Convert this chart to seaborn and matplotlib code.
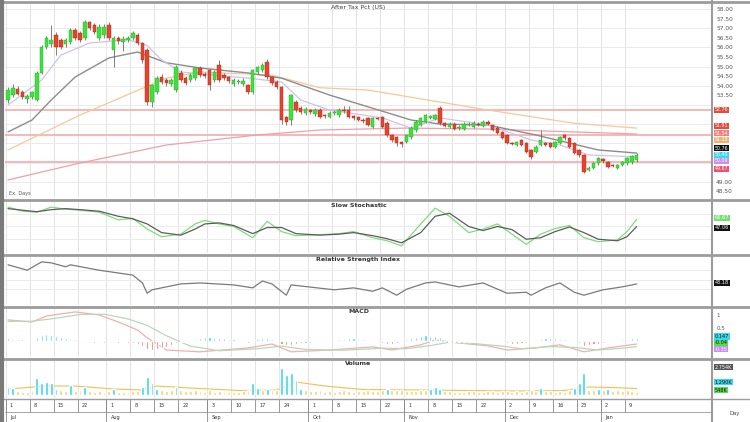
import numpy as np
import matplotlib
matplotlib.use("Agg")
import matplotlib.pyplot as plt
import seaborn as sns
from matplotlib.lines import Line2D

# daily candles
opens = [
    53.26, 53.52, 53.85, 53.70, 53.32, 53.40, 53.26, 54.67, 56.03, 56.20,
    56.65, 56.39, 56.20, 56.30, 56.91, 56.75, 56.50, 57.30, 57.17, 56.50,
    56.65, 57.17, 55.87, 56.50, 56.30, 56.40, 56.50, 56.65, 56.25, 55.87,
    53.16, 53.68, 54.45, 54.30, 54.10, 53.78, 54.67, 54.40, 54.30, 54.40,
    54.93, 54.60, 54.80, 54.30, 55.08, 54.56, 54.45, 54.10, 54.20, 54.10,
    54.04, 53.68, 54.72, 54.82, 55.24, 54.45, 54.20, 53.94, 52.38, 52.22,
    53.16, 52.85, 52.60, 52.74, 52.55, 52.74, 52.48, 52.38, 52.60, 52.48,
    52.74, 52.74, 52.42, 52.38, 52.22, 52.33, 51.86, 52.33, 52.38, 52.07,
    51.44, 51.34, 51.10, 51.08, 51.34, 51.70, 51.96, 52.12, 52.33, 52.28,
    52.85, 52.07, 51.86, 52.02, 51.80, 51.76, 51.96, 51.86, 52.02, 51.90,
    52.12, 51.96, 51.80, 51.60, 51.44, 51.03, 50.92, 51.18, 51.03, 50.66,
    50.56, 50.92, 51.03, 51.03, 50.82, 51.03, 51.44, 51.28, 51.03, 50.66,
    50.40, 49.62, 49.72, 49.98, 50.19, 50.04, 49.88, 49.72, 49.88, 49.98,
    50.04, 50.14]
closes = [
    53.78, 53.90, 53.60, 53.40, 53.47, 53.70, 54.67, 56.03, 56.50, 56.40,
    56.03, 56.03, 56.39, 56.91, 56.50, 56.39, 57.30, 57.00, 56.80, 57.05,
    57.05, 56.50, 56.50, 56.35, 56.45, 56.50, 56.75, 56.25, 55.35, 53.16,
    54.04, 54.40, 54.20, 54.15, 54.30, 54.98, 54.30, 54.15, 54.56, 54.93,
    54.56, 54.50, 54.04, 54.72, 54.30, 54.40, 54.25, 54.30, 54.25, 54.25,
    53.68, 54.82, 54.98, 55.08, 54.45, 54.15, 53.94, 52.22, 52.12, 53.52,
    52.74, 52.65, 52.80, 52.65, 52.74, 52.38, 52.42, 52.60, 52.65, 52.74,
    52.70, 52.38, 52.32, 52.22, 52.17, 51.96, 52.33, 52.28, 51.86, 51.44,
    51.18, 51.03, 50.98, 51.44, 51.80, 52.12, 52.33, 52.48, 52.42, 52.48,
    52.07, 51.90, 52.02, 51.76, 51.86, 52.02, 52.02, 52.07, 51.96, 52.12,
    52.02, 51.70, 51.55, 51.30, 51.03, 50.98, 51.08, 50.92, 50.56, 50.30,
    50.82, 51.18, 50.92, 50.82, 51.08, 51.34, 51.28, 50.82, 50.50, 50.40,
    49.52, 49.72, 49.98, 50.24, 50.09, 49.78, 49.83, 49.88, 50.04, 50.24,
    50.35, 50.40]
highs = [
    53.95, 54.10, 54.00, 53.80, 53.60, 53.75, 54.75, 56.10, 56.60, 57.17,
    56.80, 56.50, 56.50, 57.00, 57.00, 56.85, 57.45, 57.40, 57.25, 57.20,
    57.20, 57.30, 56.60, 56.60, 56.60, 56.60, 56.85, 56.75, 56.30, 55.95,
    54.10, 54.50, 54.60, 54.40, 54.40, 55.10, 54.80, 54.50, 54.65, 55.00,
    55.05, 54.70, 54.90, 54.80, 55.35, 54.65, 54.50, 54.40, 54.35, 54.40,
    54.10, 54.90, 55.05, 55.20, 55.40, 54.50, 54.30, 54.00, 52.45, 53.60,
    53.25, 52.95, 52.90, 52.80, 52.85, 52.85, 52.55, 52.70, 52.75, 52.85,
    52.95, 52.95, 52.50, 52.45, 52.30, 52.40, 52.40, 52.40, 52.45, 52.15,
    51.50, 51.40, 51.15, 51.50, 51.90, 52.20, 52.40, 52.55, 52.50, 52.55,
    52.95, 52.12, 52.10, 52.10, 51.95, 52.10, 52.10, 52.15, 52.10, 52.20,
    52.20, 52.02, 51.90, 51.65, 51.50, 51.10, 51.15, 51.25, 51.10, 50.70,
    50.90, 51.70, 51.10, 51.10, 51.15, 51.40, 51.50, 51.35, 51.10, 50.70,
    50.45, 49.80, 50.05, 50.30, 50.25, 50.10, 49.95, 49.95, 50.10, 50.30,
    50.40, 50.50]
lows = [
    53.10, 53.40, 53.50, 53.30, 53.10, 53.30, 53.20, 54.60, 55.90, 56.00,
    55.60, 55.90, 56.00, 56.20, 56.40, 56.30, 56.40, 56.90, 56.70, 56.40,
    56.50, 56.40, 55.00, 56.20, 55.80, 56.30, 56.40, 56.10, 55.20, 53.00,
    52.90, 53.60, 54.10, 54.00, 54.00, 53.70, 54.20, 54.05, 54.20, 54.30,
    54.45, 54.40, 53.80, 54.20, 54.20, 54.30, 54.15, 54.00, 54.10, 54.00,
    53.60, 53.60, 54.60, 54.70, 54.35, 54.05, 53.85, 52.00, 51.95, 51.95,
    52.65, 52.55, 52.50, 52.55, 52.45, 52.30, 52.35, 52.30, 52.50, 52.40,
    52.60, 52.30, 52.20, 52.15, 52.05, 51.90, 51.80, 52.20, 51.80, 51.35,
    51.10, 50.85, 50.82, 51.00, 51.25, 51.60, 51.90, 52.05, 52.25, 52.20,
    51.95, 51.85, 51.80, 51.70, 51.70, 51.70, 51.90, 51.80, 51.90, 51.85,
    51.95, 51.65, 51.50, 51.25, 50.95, 50.90, 50.85, 50.85, 50.50, 50.20,
    50.50, 50.85, 50.85, 50.75, 50.75, 50.95, 51.20, 50.75, 50.45, 50.30,
    49.45, 49.55, 49.65, 49.90, 50.00, 49.70, 49.75, 49.65, 49.80, 49.90,
    49.95, 50.05]
volume = [
    0.8, 0.7, 0.4, 0.3, 0.3, 0.5, 1.7, 1.2, 1.3, 1.2,
    0.6, 0.5, 0.4, 1.0, 0.4, 0.5, 0.8, 0.4, 0.3, 0.4,
    0.3, 0.4, 0.6, 0.3, 0.3, 0.3, 0.4, 0.4, 0.8, 1.8,
    1.2, 0.6, 0.5, 0.4, 0.5, 0.8, 0.5, 0.4, 0.4, 0.5,
    0.4, 0.3, 0.5, 0.3, 0.4, 0.3, 0.3, 0.3, 0.3, 0.4,
    0.5, 1.2, 0.7, 0.5, 0.6, 0.5, 0.5, 2.7, 2.0, 2.2,
    1.5, 0.6, 0.5, 0.4, 0.4, 0.5, 0.3, 0.4, 0.3, 0.4,
    0.5, 0.4, 0.3, 0.4, 0.4, 0.5, 0.4, 0.4, 0.5, 0.6,
    0.5, 0.5, 0.5, 0.4, 0.4, 0.4, 0.5, 0.5, 0.6, 0.8,
    0.6, 0.4, 0.4, 0.3, 0.3, 0.3, 0.4, 0.4, 0.3, 0.3,
    0.4, 0.4, 0.3, 0.4, 0.4, 0.3, 0.4, 0.3, 0.4, 0.5,
    0.4, 0.7, 0.4, 0.4, 0.3, 0.4, 0.3, 0.5, 0.7, 1.2,
    2.2, 0.5, 0.5, 0.6, 0.5, 0.6, 0.4, 0.5, 0.4, 0.5,
    0.4, 0.3]
macd_hist = [
    0.10, 0.08, 0.07, 0.06, 0.04, 0.05, 0.14, 0.22, 0.26, 0.24,
    0.20, 0.15, 0.10, 0.08, 0.06, 0.04, -0.06, -0.05, -0.08, -0.06,
    -0.09, -0.06, -0.05, -0.08, -0.06, -0.07, -0.08, -0.10, -0.18, -0.30,
    -0.36, -0.33, -0.28, -0.22, -0.14, -0.09, -0.06, -0.04, 0.04, 0.08,
    0.12, 0.15, 0.15, 0.13, 0.12, 0.10, 0.08, 0.06, -0.04, -0.06,
    -0.08, -0.06, 0.08, 0.12, 0.10, 0.08, 0.04, -0.10, -0.16, -0.14,
    -0.11, -0.09, -0.08, -0.08, -0.06, -0.06, -0.05, -0.04, 0.04, 0.06,
    0.08, 0.10, 0.10, 0.08, 0.06, 0.04, -0.04, -0.06, -0.08, -0.10,
    -0.11, -0.09, -0.06, 0.06, 0.11, 0.16, 0.20, 0.22, 0.20, 0.18,
    0.14, 0.09, -0.04, -0.06, -0.06, -0.04, -0.04, 0.04, 0.04, 0.03,
    0.02, -0.02, -0.04, -0.06, -0.09, -0.11, -0.11, -0.09, -0.08, -0.06,
    0.04, 0.08, 0.11, 0.13, 0.11, 0.09, 0.07, 0.04, -0.04, -0.09,
    -0.18, -0.16, -0.13, -0.10, -0.08, -0.06, -0.04, 0.04, 0.07, 0.09,
    0.11, 0.13]

# moving averages, sampled along the lines
ma_fast_idx = [0, 7, 11, 17, 25, 29, 32, 36, 50, 57, 61, 67, 78, 84, 90, 100, 109, 115, 121, 131]
ma_fast = [53.00, 54.30, 55.60, 56.23, 56.40, 56.10, 55.35, 54.72, 54.40, 54.20,
           53.26, 52.74, 52.33, 51.80, 52.33, 51.96, 51.18, 50.92, 50.40, 50.30]
ma_mid_idx = [0, 5, 9, 14, 21, 27, 33, 40, 50, 57, 67, 84, 90, 100, 110, 123, 131]
ma_mid = [51.60, 52.22, 53.26, 54.46, 55.45, 55.76, 55.20, 54.93, 54.67, 54.40,
          53.52, 52.22, 52.01, 51.96, 51.44, 50.66, 50.50]
ma_slow_idx = [0, 15, 33, 40, 55, 65, 75, 100, 118, 131]
ma_slow = [50.66, 52.48, 54.40, 54.72, 54.56, 53.90, 53.78, 52.74, 52.05, 51.80]
ma_long_idx = [0, 15, 33, 52, 65, 83, 100, 131]
ma_long = [49.10, 49.98, 50.92, 51.44, 51.70, 51.80, 51.75, 51.49]
levels = [52.76, 51.44, 50.05]

tag_values = [52.76, 51.91, 51.54, 51.18, 50.76, 50.40, 50.09, 49.67]
tag_colors = ["#e84a3a", "#e84a3a", "#f28080", "#f4b070", "#111111", "#3ad8ee", "#c890f0", "#ee5070"]

stoch_idx = [0, 3, 6, 9, 12, 15, 19, 23, 26, 29, 32, 36, 39, 41, 44, 47, 51, 54, 57, 60, 65,
             69, 72, 76, 79, 82, 86, 89, 92, 96, 99, 102, 105, 108, 111, 114, 117, 120, 123, 127, 129, 131]
stoch_k = [88, 80, 78, 88, 84, 82, 78, 63, 66, 45, 30, 35, 55, 62, 55, 50, 28, 60, 40, 32, 34,
           36, 40, 28, 22, 12, 55, 86, 70, 38, 45, 55, 35, 15, 35, 46, 52, 28, 20, 24, 40, 64]
stoch_d = [85, 82, 79, 83, 85, 83, 80, 70, 65, 55, 38, 33, 45, 55, 57, 52, 36, 48, 48, 36, 33,
           35, 38, 32, 26, 18, 38, 70, 76, 50, 42, 50, 44, 25, 28, 40, 49, 38, 25, 22, 30, 50]

rsi_idx = [0, 4, 7, 9, 12, 13, 19, 26, 28, 29, 30, 36, 40, 47, 51, 53, 55, 58, 59, 68, 72,
           76, 78, 81, 83, 87, 89, 94, 99, 104, 108, 109, 112, 115, 118, 120, 124, 128, 131]
rsi = [80, 69, 86, 84, 76, 80, 69, 59, 43, 22, 29, 41, 43, 39, 33, 47, 41, 18, 39, 29, 33,
       26, 33, 18, 30, 43, 45, 35, 43, 22, 24, 18, 33, 43, 24, 18, 29, 35, 41]

macd_idx = [0, 5, 8, 14, 19, 23, 27, 29, 33, 40, 50, 55, 59, 67, 76, 80, 86, 89, 94, 100,
            104, 110, 115, 120, 125, 131]
macd = [0.81, 0.73, 0.96, 1.12, 1.00, 0.73, 0.42, 0.12, -0.35, -0.42, -0.27, -0.12, -0.42,
        -0.35, -0.23, -0.35, -0.15, 0.04, -0.08, -0.19, -0.35, -0.27, -0.15, -0.42, -0.27, -0.12]
signal_idx = [0, 5, 9, 15, 20, 25, 29, 33, 38, 44, 52, 57, 62, 70, 78, 83, 88, 92, 97, 103,
              107, 113, 118, 123, 128, 131]
signal = [0.75, 0.76, 0.85, 1.02, 1.03, 0.85, 0.60, 0.20, -0.20, -0.38, -0.30, -0.20, -0.33,
          -0.36, -0.28, -0.30, -0.18, -0.05, -0.10, -0.20, -0.30, -0.22, -0.25, -0.35, -0.28, -0.22]

vol_ma_idx = [0, 8, 14, 22, 28, 31, 38, 48, 56, 60, 66, 74, 86, 96, 106, 116, 121, 126, 131]
vol_ma = [0.6, 0.9, 0.9, 0.6, 0.5, 0.9, 0.7, 0.45, 0.5, 1.3, 0.9, 0.55, 0.5, 0.45, 0.4, 0.45, 0.8, 0.75, 0.65]

tick_idx = [0, 5, 10, 15, 21, 26, 31, 36, 42, 47, 52, 57, 63, 68, 73, 78, 83, 88, 93, 98,
            104, 109, 114, 119, 124, 129]
tick_day = ["1", "8", "15", "22", "1", "8", "15", "22", "3", "10", "17", "24", "1", "8", "15",
            "22", "1", "8", "15", "22", "2", "9", "16", "23", "2", "9"]
month_idx = [0, 21, 42, 63, 83, 104, 124]
month_lbl = ["Jul", "Aug", "Sep", "Oct", "Nov", "Dec", "Jan"]

sns.set_style("white")
plt.rcParams["font.family"] = ["DejaVu Sans"]

W, H = 750, 422
fig = plt.figure(figsize=(7.5, 4.22), dpi=100)


def panel(top, bot):
    return fig.add_axes([5 / W, 1 - bot / H, 707 / W, (bot - top) / H])


ax_p = panel(4, 198)
ax_s = panel(201, 253)
ax_r = panel(256, 305)
ax_m = panel(308, 357)
ax_v = panel(360, 398)
ax_d = panel(399, 422)
axes = [ax_p, ax_s, ax_r, ax_m, ax_v, ax_d]

idx = np.arange(len(closes))
for ax in axes:
    ax.set_xlim(-0.63, 146.7)
    for s in ax.spines.values():
        s.set_visible(False)
    ax.tick_params(axis="x", bottom=False, labelbottom=False)
    ax.set_facecolor("white")
    if ax is not ax_d:
        for t in tick_idx:
            ax.axvline(t - 0.5, color="#e3e3e3", lw=0.7, zorder=0)

# price panel
ax_p.set_ylim(48.16, 58.26)
for g in range(49, 59):
    ax_p.axhline(g, color="#ebebeb", lw=0.7, zorder=0)
for lvl in levels:
    ax_p.axhline(lvl, color="#f4abab", lw=1.2, zorder=1)
sns.lineplot(x=ma_long_idx, y=ma_long, ax=ax_p, color="#f0a0a8", lw=0.9, zorder=2)
sns.lineplot(x=ma_slow_idx, y=ma_slow, ax=ax_p, color="#f6c89a", lw=0.9, zorder=2)
sns.lineplot(x=ma_mid_idx, y=ma_mid, ax=ax_p, color="#8c8c8c", lw=1.0, zorder=2)
sns.lineplot(x=ma_fast_idx, y=ma_fast, ax=ax_p, color="#cfc2ea", lw=0.9, zorder=2)

o = np.array(opens)
c = np.array(closes)
up = c >= o
ax_p.vlines(idx, lows, highs, color="#6a6a6a", lw=0.6, zorder=3)
ax_p.bar(idx, np.maximum(np.abs(c - o), 0.04), bottom=np.minimum(o, c), width=0.72,
         color=np.where(up, "#3ee23e", "#e8432c"), edgecolor=np.where(up, "#2aa82a", "#a8281a"),
         linewidth=0.3, zorder=4)

# right price scale; the tag boxes cover the labels between 49.5 and 53
ax_p.yaxis.tick_right()
ticks = [t for t in np.arange(48.5, 58.01, 0.5) if not 49.4 < t < 53.1]
ax_p.set_yticks(ticks)
ax_p.set_yticklabels([f"{t:.2f}" for t in ticks])
ax_p.tick_params(axis="y", length=0, pad=3, labelsize=4.2, labelcolor="#555555")
ax_p.set_ylabel("")
ax_p.text(0.5, 0.995, "After Tax Pct (US)", transform=ax_p.transAxes, ha="center", va="top",
          fontsize=4.5, color="#444444")
ax_p.text(0.006, 0.012, "Ex. Days", transform=ax_p.transAxes, ha="left", va="bottom",
          fontsize=3.6, color="#555555")
tr = ax_p.get_yaxis_transform()
for v, col in zip(tag_values, tag_colors):
    ax_p.text(1.004, v, f"{v:.2f}", transform=tr, ha="left", va="center", fontsize=3.4,
              color="white", zorder=10,
              bbox=dict(boxstyle="square,pad=0.1", fc=col, ec="none"))


def right_tag(ax, v, txt, col, tcol="white"):
    ax.text(1.004, v, txt, transform=ax.get_yaxis_transform(), ha="left", va="center",
            fontsize=3.6, color=tcol, zorder=10,
            bbox=dict(boxstyle="square,pad=0.12", fc=col, ec="none"))


def panel_title(ax, txt):
    ax.text(0.5, 0.97, txt, transform=ax.transAxes, ha="center", va="top", fontsize=4.5,
            color="#333333", fontweight="bold")


# slow stochastic
ax_s.set_ylim(-2, 100)
ax_s.set_yticks([])
for g in [25, 50, 75]:
    ax_s.axhline(g, color="#ececec", lw=0.7, zorder=0)
sns.lineplot(x=stoch_idx, y=stoch_k, ax=ax_s, color="#7edc7e", lw=0.9)
sns.lineplot(x=stoch_idx, y=stoch_d, ax=ax_s, color="#5c5c5c", lw=0.9)
panel_title(ax_s, "Slow Stochastic")
right_tag(ax_s, 66.7, "66.67", "#72e072")
right_tag(ax_s, 47.1, "47.06", "#111111")

# RSI
ax_r.set_ylim(-2, 98)
ax_r.set_yticks([])
for g in [30, 50, 70]:
    ax_r.axhline(g, color="#ececec", lw=0.7, zorder=0)
sns.lineplot(x=rsi_idx, y=rsi, ax=ax_r, color="#7a7a7a", lw=0.9)
panel_title(ax_r, "Relative Strength Index")
right_tag(ax_r, 43.2, "43.18", "#111111")

# MACD
ax_m.set_ylim(-0.62, 1.27)
ax_m.yaxis.tick_right()
ax_m.set_yticks([1.0, 0.5])
ax_m.set_yticklabels(["1", "0.5"])
ax_m.tick_params(axis="y", length=0, pad=3, labelsize=4.0, labelcolor="#555555")
h = np.array(macd_hist)
ax_m.bar(idx, h, width=0.45, color=np.where(h >= 0, "#3ad8ee", "#ee5a4a"), zorder=3)
sns.lineplot(x=macd_idx, y=macd, ax=ax_m, color="#eeb0b0", lw=0.9)
sns.lineplot(x=signal_idx, y=signal, ax=ax_m, color="#b8d8b8", lw=0.9)
panel_title(ax_m, "MACD")
right_tag(ax_m, 0.17, "0.147", "#3ad8ee", "#111111")
right_tag(ax_m, -0.07, "-0.04", "#55dd55", "#111111")
right_tag(ax_m, -0.32, "-0.35", "#c890f0")

# volume
ax_v.set_ylim(-0.3, 3.5)
ax_v.set_yticks([])
vol = np.array(volume)
ax_v.bar(idx, vol, width=0.6, color=np.where(vol >= 0.6, "#3ad8ee", "#f2d36a"), zorder=3)
sns.lineplot(x=vol_ma_idx, y=vol_ma, ax=ax_v, color="#f0c050", lw=0.8)
panel_title(ax_v, "Volume")
right_tag(ax_v, 2.8, "2,754K", "#555555")
right_tag(ax_v, 1.3, "1,290K", "#3ad8ee", "#111111")
right_tag(ax_v, 0.5, "548K", "#55dd55", "#111111")

# date strip
ax_d.set_ylim(0, 1)
ax_d.set_yticks([])
ax_d.axhline(0.42, color="#999999", lw=0.6)
for t, d in zip(tick_idx, tick_day):
    ax_d.plot([t - 0.5, t - 0.5], [0.42, 1.0], color="#888888", lw=0.6)
    ax_d.text(t + 0.4, 0.72, d, ha="left", va="center", fontsize=3.6, color="#333333")
for m, lab in zip(month_idx, month_lbl):
    ax_d.plot([m - 0.5, m - 0.5], [0.0, 1.0], color="#888888", lw=0.6)
    ax_d.text(m + 0.4, 0.2, lab, ha="left", va="center", fontsize=3.6, color="#333333")
fig.text(735 / W, 1 - 413 / H, "Day", ha="center", va="center", fontsize=3.8, color="#444444")


# frame lines
def hline(ypx, lw=2.0, col="#9c9c9c"):
    fig.add_artist(Line2D([0, 1], [1 - ypx / H] * 2, transform=fig.transFigure, color=col, lw=lw))


for ypx in [1.5, 199.5, 254.5, 306.5, 358.5]:
    hline(ypx)
hline(398.8, lw=1.0)
fig.add_artist(Line2D([712 / W] * 2, [0, 1], transform=fig.transFigure, color="#9c9c9c", lw=1.5))
fig.add_artist(Line2D([2 / W] * 2, [0, 1], transform=fig.transFigure, color="#7a7a7a", lw=3.0))

fig.savefig("out.png", dpi=100, facecolor="white")
